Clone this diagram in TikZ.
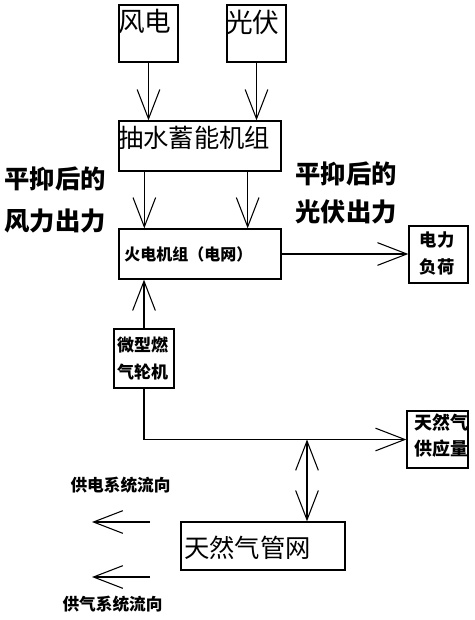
\documentclass[tikz,border=0pt]{standalone}
\usepackage{fontspec}
\setmainfont{Noto Sans CJK SC}
\usetikzlibrary{calc, fit, arrows.meta}
\tikzset{
  box/.style={draw, line width=1pt, inner sep=0pt},
  arr/.style={-{Straight Barb[length=22pt, width=17pt]}, line width=0.8pt},
  dblarr/.style={{Straight Barb[length=22pt, width=17pt]}-{Straight Barb[length=22pt, width=17pt]}, line width=0.8pt},
  big/.style={inner sep=0pt, font=\fontsize{19}{23}\selectfont},
  small/.style={inner sep=0pt, font=\bfseries\fontsize{12.5}{20}\selectfont, align=left}
}
\begin{document}
\begin{tikzpicture}[x=0.75pt, y=-0.75pt]
    \useasboundingbox (0,0) rectangle (474,620);

    % Draw the boxes
    \node[box, fit={(119,5) (178,62)}] (fd) {};
    \node[box, fit={(227,5) (286,62)}] (gf) {};
    \node[box, fit={(119,121) (281,171)}] (cx) {};
    \node[box, fit={(119,229) (281,279)}] (hd) {};
    \node[box, fit={(409,226) (468,283)}] (dl) {};
    \node[box, fit={(114,329) (174,388)}] (wt) {};
    \node[box, fit={(407,411) (468,468)}] (gs) {};
    \node[box, fit={(181,522) (345,570)}] (gw) {};

    % Label the boxes
    \node[big, font=\fontsize{20}{24}\selectfont] (fdt) at (118,21) [anchor=west] {风电};
    \node[big, font=\fontsize{20}{24}\selectfont] (gft) at (226,22) [anchor=west] {光伏};
    \node[big] (cxt) at (118,138) [anchor=west] {抽水蓄能机组};
    \node[small, font=\bfseries\fontsize{12}{20}\selectfont] (hdt) at (124,254) [anchor=west] {火电机组（电网）};
    \node[small, font=\bfseries\fontsize{13}{20}\selectfont] (dlt) at (437,253.5) {电力\\负荷};
    \node[small, font=\bfseries\fontsize{12.75}{20}\selectfont] (wtt) at (142.5,358.5) {微型燃\\气轮机};
    \node[small, font=\bfseries\fontsize{13.5}{20}\selectfont] (gst) at (414,435.5) [anchor=west] {天然气\\供应量};
    \node[big] (gwt) at (184,548) [anchor=west] {天然气管网};

    % Side labels
    \node[big, font=\bfseries\fontsize{19}{31.5}\selectfont, align=left] (pl) at (55,199.5) {平抑后的\\风力出力};
    \node[big, font=\bfseries\fontsize{19}{29}\selectfont, align=left] (pr) at (346,193) {平抑后的\\光伏出力};
    \node[small] (ld) at (120.5,485) {供电系统流向};
    \node[small] (lq) at (112.5,604) {供气系统流向};

    % Draw the arrows
    \draw[arr] (fd.south) -- (fd.south |- cx.north);
    \draw[arr] (gf.south) -- (gf.south |- cx.north);
    \draw[arr] ($(cx.south west)+(26,0)$) -- ($(hd.north west)+(26,0)$);
    \draw[arr] ($(cx.south east)+(-34,0)$) -- ($(hd.north east)+(-34,0)$);
    \draw[arr] (hd.east) -- (dl.west |- hd.east);
    \draw[arr] (wt.north) -- (wt.north |- hd.south);
    \draw[arr] (wt.south) |- (gs.west);
    \coordinate (gj) at (307,439.5);
    \draw[dblarr] (gj) -- (gj |- gw.north);

    % Flow direction arrows
    \coordinate (e1) at (150,522);
    \coordinate (e2) at (150,577);
    \draw[arr] (e1) -- ++(-58,0);
    \draw[arr] (e2) -- ++(-58,0);

\end{tikzpicture}
\end{document}
